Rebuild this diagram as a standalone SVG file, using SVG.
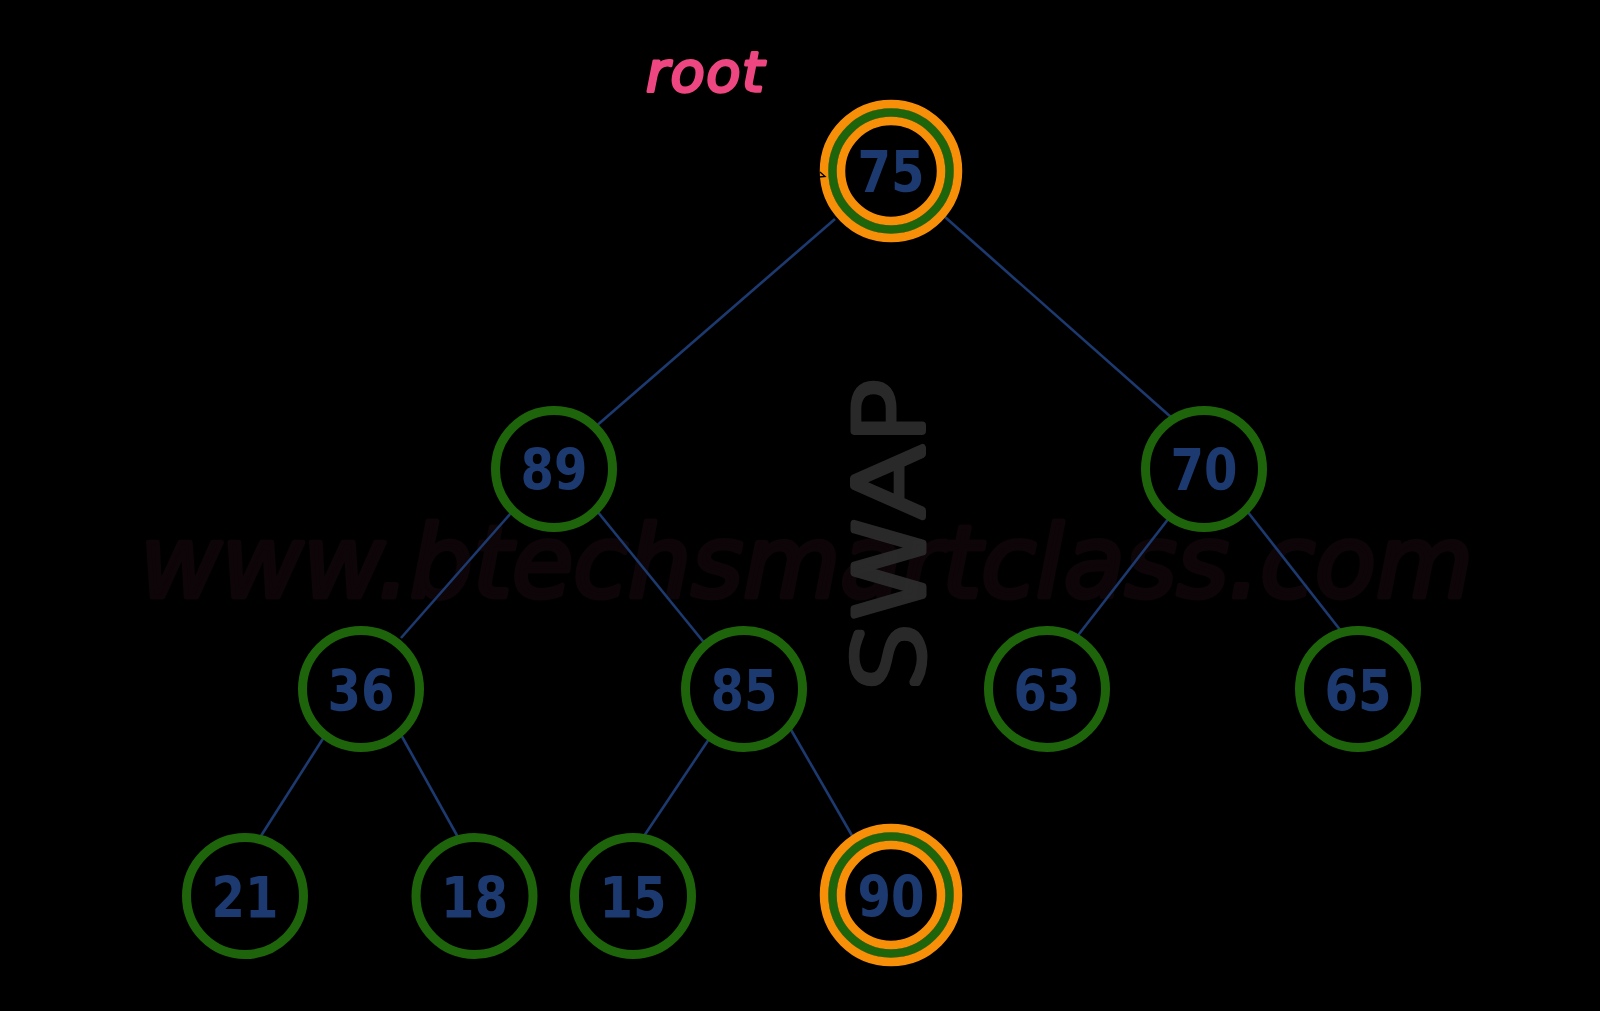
<svg xmlns="http://www.w3.org/2000/svg" width="1600" height="1011" viewBox="0 0 1600 1011">
<style>
.edge{stroke:#1c3a70;stroke-width:2.6;fill:none}
.ring{fill:#000;stroke:#1e640a;stroke-width:9}
.hl{fill:none;stroke:#f79008;stroke-width:8.5}
.num{font-family:"DejaVu Sans Condensed","DejaVu Sans",sans-serif;font-weight:700;font-size:57px;fill:#1c3a70;text-anchor:middle}
.hand{font-family:"DejaVu Sans",sans-serif;font-style:oblique;stroke-linejoin:round;stroke-linecap:round}
</style>
<rect width="1600" height="1011" fill="#000"/>
<text class="hand" x="140" y="597" font-size="100" textLength="1333" lengthAdjust="spacingAndGlyphs" fill="#0d0508" stroke="#0d0508" stroke-width="5">www.btechsmartclass.com</text>
<g id="connectors">
<line class="edge" x1="835" y1="219" x2="598" y2="424.500"/>
<line class="edge" x1="945" y1="217" x2="1172" y2="418"/>
<line class="edge" x1="511" y1="513" x2="401" y2="638"/>
<line class="edge" x1="597" y1="511" x2="706" y2="645"/>
<line class="edge" x1="1169" y1="518" x2="1076" y2="638"/>
<line class="edge" x1="1247" y1="511" x2="1341" y2="631"/>
<line class="edge" x1="324" y1="737" x2="259" y2="839"/>
<line class="edge" x1="400" y1="733" x2="459" y2="839"/>
<line class="edge" x1="709" y1="739" x2="642" y2="839"/>
<line class="edge" x1="790" y1="728" x2="854" y2="839"/>
</g>
<g id="n75"><circle class="ring" cx="891" cy="171" r="58.500"/><circle class="hl" cx="891" cy="171" r="67"/><circle class="hl" cx="891" cy="171" r="50"/><text class="num" x="891" y="192" textLength="67" lengthAdjust="spacingAndGlyphs">75</text></g>
<g id="n89"><circle class="ring" cx="554" cy="469" r="58.500"/><text class="num" x="554" y="490" textLength="67" lengthAdjust="spacingAndGlyphs">89</text></g>
<g id="n70"><circle class="ring" cx="1204" cy="469" r="58.500"/><text class="num" x="1204" y="490" textLength="67" lengthAdjust="spacingAndGlyphs">70</text></g>
<g id="n36"><circle class="ring" cx="361" cy="689" r="58.500"/><text class="num" x="361" y="711" textLength="67" lengthAdjust="spacingAndGlyphs">36</text></g>
<g id="n85"><circle class="ring" cx="744" cy="689" r="58.500"/><text class="num" x="744" y="711" textLength="67" lengthAdjust="spacingAndGlyphs">85</text></g>
<g id="n63"><circle class="ring" cx="1047" cy="689" r="58.500"/><text class="num" x="1047" y="711" textLength="67" lengthAdjust="spacingAndGlyphs">63</text></g>
<g id="n65"><circle class="ring" cx="1358" cy="689" r="58.500"/><text class="num" x="1358" y="711" textLength="67" lengthAdjust="spacingAndGlyphs">65</text></g>
<g id="n21"><circle class="ring" cx="245" cy="896" r="58.500"/><text class="num" x="245" y="918" textLength="67" lengthAdjust="spacingAndGlyphs">21</text></g>
<g id="n18"><circle class="ring" cx="474.500" cy="896" r="58.500"/><text class="num" x="474.500" y="918" textLength="67" lengthAdjust="spacingAndGlyphs">18</text></g>
<g id="n15"><circle class="ring" cx="633" cy="896" r="58.500"/><text class="num" x="633" y="918" textLength="67" lengthAdjust="spacingAndGlyphs">15</text></g>
<g id="n90"><circle class="ring" cx="891" cy="895" r="58.500"/><circle class="hl" cx="891" cy="895" r="67"/><circle class="hl" cx="891" cy="895" r="50"/><text class="num" x="891" y="917" textLength="67" lengthAdjust="spacingAndGlyphs">90</text></g>
<path d="M820 172L825 176.500L819 177" fill="none" stroke="#000" stroke-width="1.300"/>
<text class="hand" x="646" y="91" font-size="56" fill="#ee4680" stroke="#ee4680" stroke-width="3" textLength="118" lengthAdjust="spacing">root</text>
<text class="hand" transform="translate(923,692) rotate(-90)" font-size="95" textLength="314" lengthAdjust="spacingAndGlyphs" fill="#2c2c2c" stroke="#2c2c2c" stroke-width="7" opacity="0.95" style="font-style:normal;font-weight:200">SWAP</text>
</svg>
